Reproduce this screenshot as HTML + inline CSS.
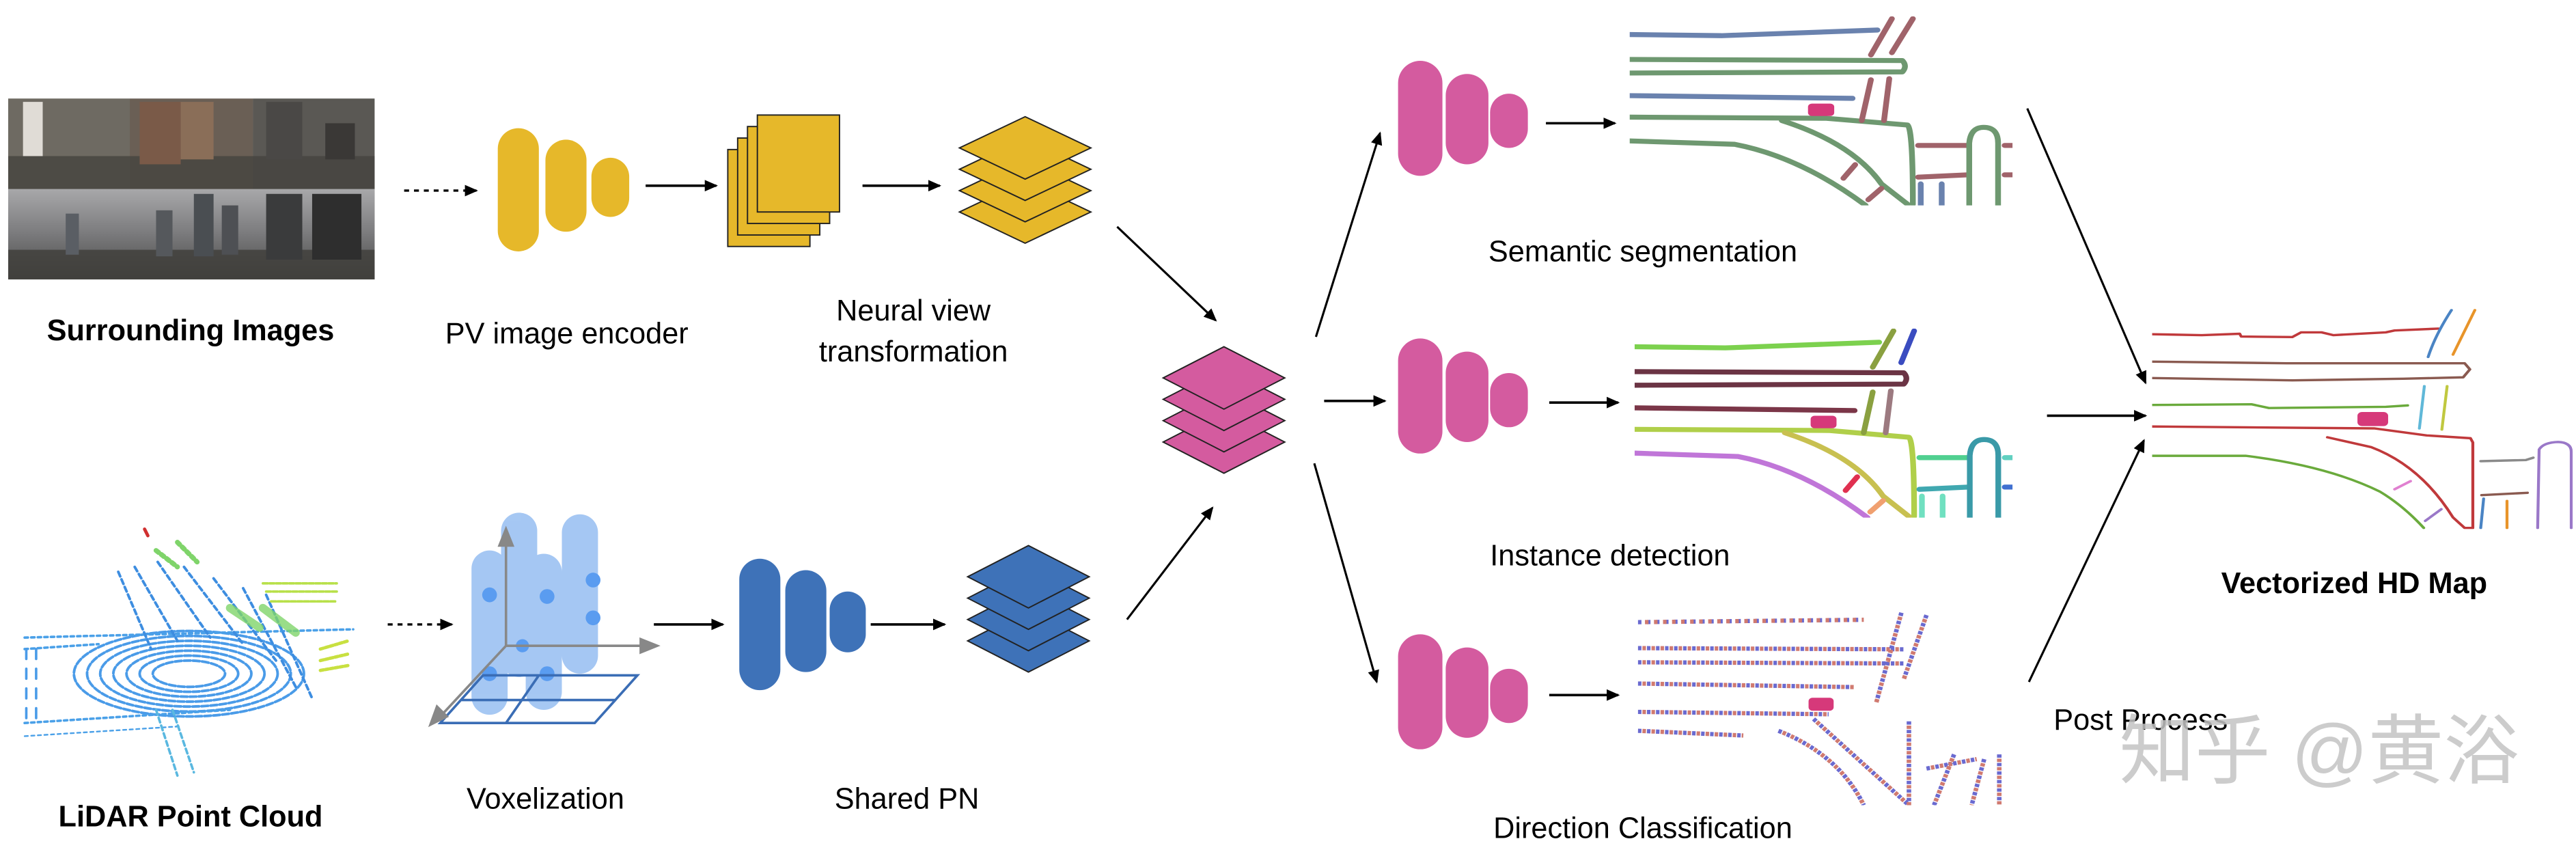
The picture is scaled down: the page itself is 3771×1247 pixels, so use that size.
<!DOCTYPE html>
<html><head><meta charset="utf-8"><style>
html,body{margin:0;padding:0;background:#fff;}
svg{display:block}
text{font-family:"Liberation Sans","Noto Sans CJK SC",sans-serif;fill:#000}
</style></head><body>
<svg width="3771" height="1247" viewBox="0 0 1568 518.5" preserveAspectRatio="none" xmlns="http://www.w3.org/2000/svg">
<defs>
<marker id="ah" markerWidth="8" markerHeight="8" refX="7" refY="4" orient="auto" markerUnits="userSpaceOnUse"><path d="M0,0.5 L8,4 L0,7.5 Z" fill="#000"/></marker>
<linearGradient id="sky" x1="0" y1="0" x2="0" y2="1"><stop offset="0" stop-color="#9a9a96"/><stop offset="0.6" stop-color="#6e6c68"/><stop offset="1" stop-color="#55534f"/></linearGradient>
<linearGradient id="sky2" x1="0" y1="0" x2="0" y2="1"><stop offset="0" stop-color="#a8a8aa"/><stop offset="0.5" stop-color="#7a7a7c"/><stop offset="1" stop-color="#4a4a48"/></linearGradient>
<g id="ydia"><path d="M-40,0 L0,-19 L40,0 L0,19 Z" stroke="#222" stroke-width="0.8"/></g>
</defs>
<rect width="1568" height="518.5" fill="#fff"/>

<!-- Surrounding images -->
<g>
<rect x="5" y="60" width="223" height="110" fill="url(#sky)"/>
<rect x="5" y="60" width="74" height="55" fill="#6e6a62"/>
<rect x="79" y="60" width="75" height="55" fill="#6a5f55"/>
<rect x="154" y="60" width="74" height="55" fill="#5a5854"/>
<rect x="5" y="115" width="223" height="55" fill="url(#sky2)"/>
<rect x="5" y="95" width="223" height="20" fill="#45433f" opacity="0.8"/>
<rect x="5" y="152" width="223" height="18" fill="#3e3d3a" opacity="0.8"/>
<rect x="14" y="62" width="12" height="33" fill="#e0dcd6"/>
<rect x="85" y="62" width="25" height="38" fill="#7a5a48"/>
<rect x="110" y="62" width="20" height="35" fill="#8a6e58"/>
<rect x="162" y="62" width="22" height="35" fill="#4a4846"/>
<rect x="198" y="75" width="18" height="22" fill="#3a3836"/>
<rect x="40" y="130" width="8" height="25" fill="#5a5e64"/>
<rect x="95" y="128" width="10" height="28" fill="#55585c"/>
<rect x="118" y="118" width="12" height="38" fill="#4a4e52"/>
<rect x="135" y="125" width="10" height="30" fill="#4e5054"/>
<rect x="162" y="118" width="22" height="40" fill="#3a3b3c"/>
<rect x="190" y="118" width="30" height="40" fill="#2e2e2e"/>
</g>
<text x="116" y="207" font-size="18" font-weight="bold" text-anchor="middle">Surrounding Images</text>

<!-- top row -->
<line x1="246" y1="116" x2="290" y2="116" stroke="#000" stroke-width="1.4" stroke-dasharray="3,3" marker-end="url(#ah)"/>
<rect x="303" y="78" width="25" height="75" rx="12.5" fill="#e6b82a"/>
<rect x="332" y="85" width="25" height="56" rx="12.5" fill="#e6b82a"/>
<rect x="360" y="96" width="23" height="36" rx="11.5" fill="#e6b82a"/>
<line x1="393" y1="113" x2="436" y2="113" stroke="#000" stroke-width="1.5" marker-end="url(#ah)"/>
<g fill="#e6b82a" stroke="#222" stroke-width="0.8">
<rect x="443" y="91" width="50" height="59"/>
<rect x="449" y="84" width="50" height="59"/>
<rect x="455" y="77" width="50" height="59"/>
<rect x="461" y="70" width="50" height="59"/>
</g>
<line x1="525" y1="113" x2="572" y2="113" stroke="#000" stroke-width="1.5" marker-end="url(#ah)"/>
<g fill="#e6b82a">
<use href="#ydia" x="624" y="129"/><use href="#ydia" x="624" y="116"/><use href="#ydia" x="624" y="103"/><use href="#ydia" x="624" y="90"/>
</g>
<text x="345" y="209" font-size="18" text-anchor="middle">PV image encoder</text>
<text x="556" y="195" font-size="18" text-anchor="middle">Neural view</text>
<text x="556" y="220" font-size="18" text-anchor="middle">transformation</text>

<line x1="680" y1="138" x2="740" y2="195" stroke="#000" stroke-width="1.3" marker-end="url(#ah)"/>
<line x1="686" y1="377" x2="738" y2="309" stroke="#000" stroke-width="1.3" marker-end="url(#ah)"/>

<!-- pink stack -->
<g fill="#d45b9f" stroke="#222" stroke-width="0.8">
<path d="M708,269 L745,250 L782,269 L745,288 Z"/>
<path d="M708,256 L745,237 L782,256 L745,275 Z"/>
<path d="M708,243 L745,224 L782,243 L745,262 Z"/>
<path d="M708,230 L745,211 L782,230 L745,249 Z"/>
</g>

<!-- LiDAR -->
<g fill="none" stroke-linecap="round">
<g stroke="#4a9be8" stroke-width="1.6" stroke-dasharray="4,1.5">
<ellipse cx="115" cy="410" rx="22" ry="8"/>
<ellipse cx="115" cy="410" rx="30" ry="11"/>
<ellipse cx="115" cy="410" rx="38" ry="14"/>
<ellipse cx="115" cy="410" rx="46" ry="17"/>
<ellipse cx="115" cy="410" rx="54" ry="20"/>
<ellipse cx="115" cy="410" rx="62" ry="23"/>
<ellipse cx="115" cy="410" rx="70" ry="26"/>
</g>
<path d="M15,388 L215,383" stroke="#4aa0e8" stroke-width="1.5" stroke-dasharray="2,2"/>
<path d="M15,395 L60,392" stroke="#4aa0e8" stroke-width="1.5" stroke-dasharray="2,2"/>
<path d="M15,440 L140,432" stroke="#4aa0e8" stroke-width="1.5" stroke-dasharray="2,2"/>
<path d="M15,448 L110,442" stroke="#4aa0e8" stroke-width="1" stroke-dasharray="2,2"/>
<path d="M16,395 L16,440 M22,395 L22,440" stroke="#4a9be8" stroke-width="1.5" stroke-dasharray="6,6"/>
<path d="M72,348 L92,395 M82,345 L108,390 M96,342 L128,388 M112,345 L148,392 M130,352 L168,402 M148,358 L180,418 M162,362 L190,425" stroke="#3d8de0" stroke-width="1.6" stroke-dasharray="3,2"/>
<path d="M95,335 L108,345 M108,330 L120,342" stroke="#7fd46a" stroke-width="3" stroke-dasharray="2,2"/>
<path d="M140,370 L158,382 M160,370 L180,385" stroke="#7fd46a" stroke-width="5" opacity="0.8"/>
<path d="M160,355 L205,355 M162,360 L205,360 M165,366 L205,366" stroke="#b8e04a" stroke-width="1.5" stroke-dasharray="3,1"/>
<path d="M195,395 L212,390 M195,402 L212,398 M195,408 L212,405" stroke="#c8e040" stroke-width="2" stroke-dasharray="2,1"/>
<path d="M95,432 L108,472 M105,432 L118,470" stroke="#5ab8e0" stroke-width="1.5" stroke-dasharray="3,2"/>
<path d="M88,322 L90,326" stroke="#d03030" stroke-width="2"/>
</g>
<text x="116" y="503" font-size="18" font-weight="bold" text-anchor="middle">LiDAR Point Cloud</text>

<!-- Voxelization -->
<line x1="236" y1="380" x2="275" y2="380" stroke="#000" stroke-width="1.4" stroke-dasharray="3,3" marker-end="url(#ah)"/>
<g fill="#9cc2f2" opacity="0.9">
<rect x="287" y="335" width="22" height="100" rx="11"/>
<rect x="305" y="312" width="22" height="100" rx="11"/>
<rect x="320" y="337" width="22" height="95" rx="11"/>
<rect x="342" y="313" width="22" height="97" rx="11"/>
</g>
<g fill="#5a9cf0">
<circle cx="298" cy="362" r="4.5"/><circle cx="333" cy="363" r="4.5"/><circle cx="361" cy="353" r="4.5"/><circle cx="361" cy="376" r="4.5"/>
<circle cx="298" cy="410" r="4.5"/><circle cx="333" cy="410" r="4.5"/><circle cx="318" cy="393" r="4"/>
</g>
<path d="M268,440 L362,440 L388,411 L294,411 Z M281,426 L375,426 M328,411 L308,440" fill="none" stroke="#3a6db5" stroke-width="1.5"/>
<g stroke="#888" stroke-width="1.5" fill="#888">
<line x1="308" y1="393" x2="308" y2="330"/><path d="M304,332 L308,322 L312,332 Z"/>
<line x1="308" y1="393" x2="392" y2="393"/><path d="M390,389 L400,393 L390,397 Z"/>
<line x1="308" y1="393" x2="268" y2="436"/><path d="M266,430 L262,441 L272,436 Z"/>
</g>
<text x="332" y="492" font-size="18" text-anchor="middle">Voxelization</text>

<line x1="398" y1="380" x2="440" y2="380" stroke="#000" stroke-width="1.5" marker-end="url(#ah)"/>
<rect x="450" y="340" width="25" height="80" rx="12.5" fill="#3e72b8"/>
<rect x="478" y="347" width="25" height="62" rx="12.5" fill="#3e72b8"/>
<rect x="505" y="360" width="22" height="37" rx="11" fill="#3e72b8"/>
<line x1="530" y1="380" x2="575" y2="380" stroke="#000" stroke-width="1.5" marker-end="url(#ah)"/>
<g fill="#3e72b8" stroke="#222" stroke-width="0.8">
<path d="M589,390 L626,371 L663,390 L626,409 Z"/>
<path d="M589,377 L626,358 L663,377 L626,396 Z"/>
<path d="M589,364 L626,345 L663,364 L626,383 Z"/>
<path d="M589,351 L626,332 L663,351 L626,370 Z"/>
</g>
<text x="552" y="492" font-size="18" text-anchor="middle">Shared PN</text>

<!-- branches -->
<line x1="801" y1="205" x2="840" y2="81" stroke="#000" stroke-width="1.3" marker-end="url(#ah)"/>
<line x1="806" y1="244" x2="843" y2="244" stroke="#000" stroke-width="1.5" marker-end="url(#ah)"/>
<line x1="800" y1="282" x2="838" y2="415" stroke="#000" stroke-width="1.3" marker-end="url(#ah)"/>

<g fill="#d45b9f">
<rect x="851" y="37" width="27" height="70" rx="13.5"/><rect x="880" y="45" width="26" height="55" rx="13"/><rect x="907" y="57" width="23" height="33" rx="11.5"/>
<rect x="851" y="206" width="27" height="70" rx="13.5"/><rect x="880" y="214" width="26" height="55" rx="13"/><rect x="907" y="227" width="23" height="33" rx="11.5"/>
<rect x="851" y="386" width="27" height="70" rx="13.5"/><rect x="880" y="394" width="26" height="55" rx="13"/><rect x="907" y="407" width="23" height="33" rx="11.5"/>
</g>
<line x1="941" y1="75" x2="983" y2="75" stroke="#000" stroke-width="1.5" marker-end="url(#ah)"/>
<line x1="943" y1="245" x2="985" y2="245" stroke="#000" stroke-width="1.5" marker-end="url(#ah)"/>
<line x1="943" y1="423" x2="985" y2="423" stroke="#000" stroke-width="1.5" marker-end="url(#ah)"/>

<!-- Semantic map -->
<svg x="992" y="10" width="233" height="115" viewBox="0 0 1460 835" preserveAspectRatio="none">
<g fill="none" stroke-linecap="round" stroke-linejoin="round" stroke-width="22">
<path d="M0,80 L350,85 L945,60" stroke="#6a82ae"/>
<path d="M0,190 L1040,195 Q1060,220 1040,245 L0,250" stroke="#6e9870"/>
<path d="M0,350 L850,362" stroke="#6a82ae"/>
<path d="M0,445 L750,450 L1060,480 Q1080,500 1080,830" stroke="#6e9870"/>
<path d="M580,460 Q850,560 960,740 L1060,830" stroke="#6e9870"/>
<path d="M0,550 L400,565 Q650,620 900,835" stroke="#6e9870"/>
<path d="M1000,10 L920,170 M1080,10 L1000,160 M920,280 L885,460 M990,275 L970,460 M860,655 L815,715 M960,760 L910,810 M1100,570 L1290,570 M1100,710 L1290,700 M1430,570 L1460,570 M1430,700 L1460,700" stroke="#a0636a"/>
<path d="M1110,740 L1110,835 M1190,740 L1190,835" stroke="#6a82ae"/>
<path d="M1295,835 L1295,560 Q1300,490 1350,490 Q1405,490 1405,560 L1405,835" stroke="#6e9870"/>
</g>
<rect x="680" y="385" width="100" height="55" rx="15" fill="#d6397a"/>
</svg>
<text x="1000" y="159" font-size="18" text-anchor="middle">Semantic segmentation</text>

<!-- Instance map -->
<svg x="995" y="200" width="230" height="115" viewBox="0 0 1460 835" preserveAspectRatio="none">
<g fill="none" stroke-linecap="round" stroke-linejoin="round" stroke-width="22">
<path d="M0,80 L350,85 L945,60" stroke="#7cd14e"/>
<path d="M0,190 L1040,195 Q1060,220 1040,245 L0,250" stroke="#6b3444"/>
<path d="M0,350 L850,362" stroke="#7b3648"/>
<path d="M0,445 L750,450 L1060,480 Q1080,500 1080,830" stroke="#b0cf4a"/>
<path d="M580,460 Q850,560 960,740 L1060,830" stroke="#c8c050"/>
<path d="M0,550 L400,565 Q650,620 900,835" stroke="#c076d8"/>
<path d="M1000,10 L920,170 M920,280 L885,460" stroke="#8aa040"/>
<path d="M1080,10 L1030,150" stroke="#3a4cc0"/>
<path d="M990,275 L970,460" stroke="#9c7a80"/>
<path d="M860,655 L815,715" stroke="#e03050"/>
<path d="M960,760 L910,810" stroke="#f0a070"/>
<path d="M1100,570 L1290,570" stroke="#50d090"/>
<path d="M1100,710 L1290,700" stroke="#40a8b0"/>
<path d="M1430,570 L1460,570" stroke="#60d0c0"/>
<path d="M1430,700 L1460,700" stroke="#4070d0"/>
<path d="M1110,740 L1110,835 M1190,740 L1190,835" stroke="#70e0c0"/>
<path d="M1295,835 L1295,560 Q1300,490 1350,490 Q1405,490 1405,560 L1405,835" stroke="#3a9aa8"/>
</g>
<rect x="680" y="385" width="100" height="55" rx="15" fill="#d6397a"/>
</svg>
<text x="980" y="344" font-size="18" text-anchor="middle">Instance detection</text>

<!-- Direction map -->
<svg x="997" y="370" width="223" height="120" viewBox="0 0 1460 835" preserveAspectRatio="none">
<g fill="none" stroke-width="18" stroke-dasharray="14,22">
<path d="M0,60 L900,50" stroke="#6a6ad0"/>
<path d="M10,60 L900,50" stroke="#d07a70" stroke-dashoffset="18"/>
<path d="M0,170 L1060,175 M0,230 L1060,235 M0,320 L860,335 M0,440 L760,450 M0,520 L420,540" stroke="#6a6ad0"/>
<path d="M0,170 L1060,175 M0,230 L1060,235 M0,320 L860,335 M0,440 L760,450 M0,520 L420,540" stroke="#d07a70" stroke-dashoffset="18"/>
<path d="M1050,20 L950,400 M1150,30 L1060,300 M560,520 Q800,620 900,835 M700,470 L1080,835 M1080,480 L1080,835 M1260,620 L1180,835 M1440,620 L1440,835 M1380,640 L1330,835 M1150,680 L1350,640" stroke="#6a6ad0"/>
<path d="M1050,20 L950,400 M1150,30 L1060,300 M560,520 Q800,620 900,835 M700,470 L1080,835 M1080,480 L1080,835 M1260,620 L1180,835 M1440,620 L1440,835 M1380,640 L1330,835 M1150,680 L1350,640" stroke="#d07a70" stroke-dashoffset="18"/>
</g>
<rect x="680" y="380" width="100" height="55" rx="15" fill="#d6397a"/>
</svg>
<text x="1000" y="510" font-size="18" text-anchor="middle">Direction Classification</text>

<!-- to final -->
<line x1="1234" y1="66" x2="1306" y2="233" stroke="#000" stroke-width="1.3" marker-end="url(#ah)"/>
<line x1="1246" y1="253" x2="1306" y2="253" stroke="#000" stroke-width="1.5" marker-end="url(#ah)"/>
<line x1="1235" y1="415" x2="1305" y2="268" stroke="#000" stroke-width="1.3" marker-end="url(#ah)"/>

<!-- Final map -->
<svg x="1310" y="188" width="256" height="134" viewBox="100 120 1440 940" preserveAspectRatio="none">
<g fill="none" stroke-width="10" stroke-linecap="round" stroke-linejoin="round">
<path d="M100,228 L270,232 L400,226 L405,238 L580,240 L610,220 L680,220 L720,232 L900,220 L930,212 L1080,204" stroke="#c0393b"/>
<path d="M100,345 L560,352 L880,352 L1170,352 L1188,378 L1165,412 L960,418 L580,425 L100,415" stroke="#8a5a50"/>
<path d="M100,530 L440,527 L500,543 L900,538 L975,532" stroke="#6aaa3c"/>
<path d="M100,622 L860,630 L1040,660 L1190,672 L1198,690 L1198,1055 L1170,1055 L1130,1010 Q1020,790 850,710 L700,668" stroke="#c0393b"/>
<path d="M100,747 L420,747 Q700,790 880,900 Q960,960 1030,1055" stroke="#6aaa3c"/>
<path d="M1125,125 Q1070,230 1045,325" stroke="#4a84c4"/>
<path d="M1205,125 L1130,315" stroke="#e8942a"/>
<path d="M1032,450 L1015,630" stroke="#60b8d8"/>
<path d="M1110,450 L1092,635" stroke="#c0c840"/>
<path d="M1225,770 L1380,765 L1405,755" stroke="#8a8a8a"/>
<path d="M1228,915 L1385,905" stroke="#8a5a50"/>
<path d="M1235,930 L1225,1055" stroke="#4a84c4"/>
<path d="M1315,940 L1315,1055" stroke="#e8942a"/>
<path d="M1420,1055 L1425,720 Q1440,690 1490,688 Q1535,690 1535,730 L1535,1055" stroke="#9a78c8"/>
<path d="M930,890 L985,855" stroke="#e080d0"/>
<path d="M1035,1025 L1090,975" stroke="#9a78c8"/>
</g>
<rect x="803" y="560" width="105" height="60" rx="16" fill="#d6397a"/>
</svg>
<text x="1433" y="361" font-size="18" font-weight="bold" text-anchor="middle">Vectorized HD Map</text>

<text x="1250" y="444" font-size="18">Post Process</text>
<text x="1290" y="473" font-size="46" style="fill:#c4c4c4;opacity:0.85">知乎 @黄浴</text>
</svg>
</body></html>
